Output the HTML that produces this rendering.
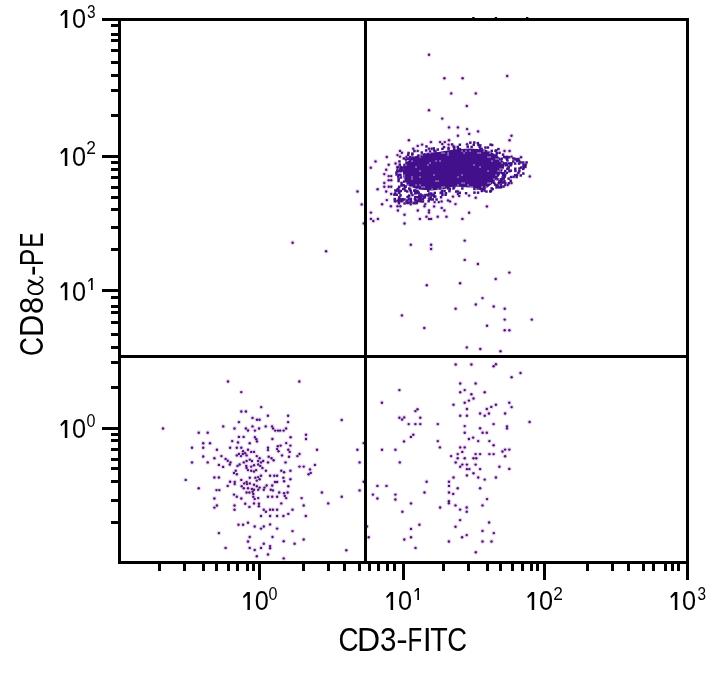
<!DOCTYPE html>
<html><head><meta charset="utf-8"><style>
html,body{margin:0;padding:0;background:#fff;width:714px;height:674px;overflow:hidden}
svg{position:absolute;left:0;top:0;display:block;will-change:transform}
text{font-family:"Liberation Sans",sans-serif;fill:#000}
</style></head><body>
<svg width="714" height="674" viewBox="0 0 714 674">
<g fill="#cf98e0" opacity="0.4"><circle cx="449.0" cy="127.4" r="2.4"/><circle cx="408.9" cy="140.2" r="2.4"/><circle cx="430.9" cy="142.1" r="2.4"/><circle cx="440.1" cy="142.1" r="2.4"/><circle cx="442.3" cy="144.0" r="2.4"/><circle cx="444.8" cy="142.1" r="2.4"/><circle cx="449.0" cy="140.2" r="2.4"/><circle cx="453.6" cy="146.5" r="2.4"/><circle cx="417.7" cy="145.9" r="2.4"/><circle cx="422.1" cy="144.6" r="2.4"/><circle cx="413.3" cy="148.8" r="2.4"/><circle cx="417.7" cy="150.9" r="2.4"/><circle cx="429.0" cy="148.8" r="2.4"/><circle cx="431.6" cy="148.8" r="2.4"/><circle cx="400.0" cy="150.9" r="2.4"/><circle cx="401.9" cy="152.8" r="2.4"/><circle cx="397.5" cy="155.1" r="2.4"/><circle cx="400.0" cy="156.6" r="2.4"/><circle cx="386.8" cy="157.0" r="2.4"/><circle cx="406.4" cy="157.0" r="2.4"/><circle cx="375.5" cy="161.4" r="2.4"/><circle cx="395.6" cy="163.5" r="2.4"/><circle cx="388.7" cy="164.8" r="2.4"/><circle cx="448.6" cy="144.6" r="2.4"/><circle cx="448.6" cy="147.8" r="2.4"/><circle cx="457.9" cy="127.4" r="2.4"/><circle cx="467.1" cy="129.1" r="2.4"/><circle cx="469.2" cy="133.9" r="2.4"/><circle cx="478.1" cy="131.4" r="2.4"/><circle cx="457.9" cy="135.8" r="2.4"/><circle cx="511.5" cy="135.8" r="2.4"/><circle cx="509.6" cy="140.2" r="2.4"/><circle cx="467.1" cy="144.3" r="2.4"/><circle cx="504.5" cy="151.0" r="2.4"/><circle cx="509.6" cy="151.0" r="2.4"/><circle cx="511.5" cy="156.6" r="2.4"/><circle cx="515.9" cy="159.1" r="2.4"/><circle cx="521.0" cy="157.2" r="2.4"/><circle cx="525.4" cy="164.8" r="2.4"/><circle cx="370.8" cy="167.8" r="2.4"/><circle cx="386.2" cy="169.8" r="2.4"/><circle cx="384.3" cy="174.1" r="2.4"/><circle cx="397.5" cy="167.8" r="2.4"/><circle cx="388.7" cy="176.1" r="2.4"/><circle cx="391.2" cy="176.1" r="2.4"/><circle cx="388.7" cy="180.2" r="2.4"/><circle cx="391.2" cy="180.2" r="2.4"/><circle cx="384.3" cy="183.0" r="2.4"/><circle cx="384.3" cy="186.7" r="2.4"/><circle cx="388.7" cy="186.7" r="2.4"/><circle cx="391.2" cy="186.7" r="2.4"/><circle cx="377.6" cy="189.3" r="2.4"/><circle cx="386.2" cy="191.5" r="2.4"/><circle cx="391.2" cy="194.0" r="2.4"/><circle cx="386.8" cy="200.1" r="2.4"/><circle cx="406.4" cy="201.6" r="2.4"/><circle cx="417.7" cy="201.6" r="2.4"/><circle cx="425.3" cy="204.1" r="2.4"/><circle cx="430.9" cy="199.1" r="2.4"/><circle cx="434.1" cy="206.4" r="2.4"/><circle cx="441.7" cy="207.9" r="2.4"/><circle cx="448.0" cy="200.4" r="2.4"/><circle cx="453.0" cy="196.6" r="2.4"/><circle cx="455.5" cy="204.1" r="2.4"/><circle cx="529.8" cy="176.4" r="2.4"/><circle cx="511.5" cy="183.0" r="2.4"/><circle cx="505.2" cy="185.0" r="2.4"/><circle cx="507.7" cy="185.0" r="2.4"/><circle cx="497.6" cy="185.2" r="2.4"/><circle cx="457.9" cy="191.5" r="2.4"/><circle cx="457.9" cy="194.0" r="2.4"/><circle cx="459.2" cy="195.9" r="2.4"/><circle cx="228.0" cy="381.5" r="2.4"/><circle cx="241.3" cy="392.1" r="2.4"/><circle cx="241.3" cy="411.5" r="2.4"/><circle cx="245.9" cy="411.5" r="2.4"/><circle cx="238.9" cy="422.1" r="2.4"/><circle cx="163.0" cy="428.5" r="2.4"/><circle cx="223.2" cy="426.4" r="2.4"/><circle cx="234.5" cy="428.5" r="2.4"/><circle cx="245.9" cy="428.5" r="2.4"/><circle cx="248.0" cy="430.5" r="2.4"/><circle cx="198.7" cy="432.7" r="2.4"/><circle cx="207.7" cy="432.7" r="2.4"/><circle cx="238.9" cy="436.9" r="2.4"/><circle cx="243.6" cy="436.9" r="2.4"/><circle cx="232.2" cy="441.1" r="2.4"/><circle cx="238.0" cy="442.5" r="2.4"/><circle cx="203.2" cy="443.2" r="2.4"/><circle cx="210.0" cy="443.2" r="2.4"/><circle cx="249.7" cy="443.2" r="2.4"/><circle cx="299.3" cy="381.5" r="2.4"/><circle cx="261.2" cy="407.1" r="2.4"/><circle cx="252.5" cy="417.9" r="2.4"/><circle cx="257.0" cy="419.7" r="2.4"/><circle cx="259.5" cy="419.7" r="2.4"/><circle cx="267.9" cy="415.7" r="2.4"/><circle cx="288.1" cy="415.7" r="2.4"/><circle cx="288.1" cy="422.1" r="2.4"/><circle cx="341.7" cy="420.0" r="2.4"/><circle cx="252.5" cy="426.4" r="2.4"/><circle cx="254.9" cy="430.6" r="2.4"/><circle cx="259.1" cy="428.5" r="2.4"/><circle cx="265.7" cy="426.4" r="2.4"/><circle cx="272.1" cy="426.4" r="2.4"/><circle cx="273.1" cy="428.5" r="2.4"/><circle cx="275.2" cy="430.6" r="2.4"/><circle cx="278.0" cy="430.6" r="2.4"/><circle cx="280.1" cy="430.6" r="2.4"/><circle cx="283.6" cy="430.6" r="2.4"/><circle cx="286.1" cy="428.5" r="2.4"/><circle cx="306.0" cy="434.8" r="2.4"/><circle cx="306.0" cy="439.0" r="2.4"/><circle cx="254.9" cy="437.2" r="2.4"/><circle cx="256.3" cy="439.3" r="2.4"/><circle cx="257.0" cy="441.4" r="2.4"/><circle cx="272.4" cy="439.0" r="2.4"/><circle cx="290.6" cy="437.2" r="2.4"/><circle cx="192.0" cy="447.7" r="2.4"/><circle cx="203.2" cy="447.7" r="2.4"/><circle cx="216.9" cy="449.8" r="2.4"/><circle cx="230.1" cy="447.7" r="2.4"/><circle cx="236.8" cy="447.7" r="2.4"/><circle cx="241.3" cy="447.7" r="2.4"/><circle cx="248.0" cy="449.8" r="2.4"/><circle cx="203.2" cy="456.5" r="2.4"/><circle cx="214.4" cy="458.2" r="2.4"/><circle cx="221.4" cy="456.1" r="2.4"/><circle cx="225.6" cy="458.9" r="2.4"/><circle cx="227.7" cy="460.7" r="2.4"/><circle cx="230.5" cy="462.4" r="2.4"/><circle cx="229.8" cy="464.5" r="2.4"/><circle cx="236.8" cy="455.4" r="2.4"/><circle cx="238.9" cy="454.0" r="2.4"/><circle cx="241.0" cy="456.1" r="2.4"/><circle cx="243.1" cy="451.2" r="2.4"/><circle cx="245.2" cy="453.3" r="2.4"/><circle cx="246.6" cy="455.4" r="2.4"/><circle cx="243.8" cy="462.4" r="2.4"/><circle cx="246.6" cy="461.0" r="2.4"/><circle cx="192.0" cy="462.4" r="2.4"/><circle cx="207.7" cy="462.4" r="2.4"/><circle cx="218.9" cy="464.9" r="2.4"/><circle cx="223.1" cy="466.9" r="2.4"/><circle cx="237.5" cy="465.9" r="2.4"/><circle cx="239.6" cy="464.5" r="2.4"/><circle cx="246.6" cy="468.0" r="2.4"/><circle cx="248.0" cy="470.1" r="2.4"/><circle cx="234.0" cy="472.9" r="2.4"/><circle cx="236.8" cy="474.3" r="2.4"/><circle cx="235.7" cy="470.8" r="2.4"/><circle cx="214.4" cy="477.5" r="2.4"/><circle cx="218.9" cy="477.5" r="2.4"/><circle cx="185.7" cy="479.9" r="2.4"/><circle cx="230.1" cy="481.7" r="2.4"/><circle cx="234.7" cy="482.0" r="2.4"/><circle cx="234.7" cy="484.1" r="2.4"/><circle cx="241.3" cy="479.9" r="2.4"/><circle cx="246.6" cy="482.0" r="2.4"/><circle cx="227.7" cy="485.9" r="2.4"/><circle cx="241.7" cy="486.2" r="2.4"/><circle cx="243.8" cy="488.3" r="2.4"/><circle cx="248.0" cy="488.3" r="2.4"/><circle cx="198.7" cy="488.3" r="2.4"/><circle cx="216.5" cy="490.1" r="2.4"/><circle cx="219.3" cy="490.1" r="2.4"/><circle cx="246.6" cy="492.5" r="2.4"/><circle cx="249.4" cy="492.5" r="2.4"/><circle cx="234.0" cy="494.6" r="2.4"/><circle cx="236.8" cy="496.7" r="2.4"/><circle cx="214.4" cy="498.5" r="2.4"/><circle cx="241.3" cy="498.5" r="2.4"/><circle cx="251.2" cy="451.9" r="2.4"/><circle cx="254.0" cy="451.9" r="2.4"/><circle cx="268.0" cy="447.7" r="2.4"/><circle cx="268.0" cy="450.1" r="2.4"/><circle cx="277.8" cy="446.3" r="2.4"/><circle cx="280.6" cy="445.6" r="2.4"/><circle cx="277.1" cy="449.1" r="2.4"/><circle cx="278.5" cy="451.2" r="2.4"/><circle cx="286.2" cy="443.1" r="2.4"/><circle cx="290.4" cy="445.6" r="2.4"/><circle cx="288.3" cy="449.8" r="2.4"/><circle cx="289.7" cy="451.9" r="2.4"/><circle cx="317.0" cy="449.8" r="2.4"/><circle cx="242.8" cy="454.0" r="2.4"/><circle cx="256.8" cy="456.1" r="2.4"/><circle cx="259.6" cy="458.2" r="2.4"/><circle cx="268.7" cy="456.8" r="2.4"/><circle cx="271.5" cy="458.2" r="2.4"/><circle cx="273.6" cy="460.3" r="2.4"/><circle cx="282.0" cy="455.4" r="2.4"/><circle cx="289.0" cy="456.8" r="2.4"/><circle cx="297.4" cy="456.1" r="2.4"/><circle cx="299.5" cy="454.0" r="2.4"/><circle cx="249.8" cy="459.6" r="2.4"/><circle cx="251.9" cy="461.0" r="2.4"/><circle cx="258.2" cy="461.0" r="2.4"/><circle cx="261.0" cy="462.4" r="2.4"/><circle cx="263.1" cy="461.0" r="2.4"/><circle cx="268.0" cy="462.4" r="2.4"/><circle cx="285.5" cy="462.4" r="2.4"/><circle cx="246.3" cy="465.9" r="2.4"/><circle cx="251.2" cy="466.6" r="2.4"/><circle cx="254.0" cy="465.2" r="2.4"/><circle cx="258.2" cy="464.5" r="2.4"/><circle cx="260.3" cy="465.9" r="2.4"/><circle cx="262.4" cy="468.0" r="2.4"/><circle cx="299.5" cy="466.6" r="2.4"/><circle cx="303.7" cy="466.6" r="2.4"/><circle cx="314.9" cy="464.9" r="2.4"/><circle cx="310.0" cy="469.4" r="2.4"/><circle cx="251.2" cy="470.8" r="2.4"/><circle cx="254.0" cy="471.5" r="2.4"/><circle cx="256.1" cy="470.1" r="2.4"/><circle cx="265.9" cy="470.8" r="2.4"/><circle cx="281.3" cy="470.8" r="2.4"/><circle cx="284.1" cy="472.2" r="2.4"/><circle cx="290.4" cy="470.8" r="2.4"/><circle cx="308.6" cy="474.3" r="2.4"/><circle cx="310.7" cy="472.9" r="2.4"/><circle cx="261.0" cy="475.7" r="2.4"/><circle cx="258.2" cy="477.1" r="2.4"/><circle cx="255.4" cy="477.8" r="2.4"/><circle cx="270.1" cy="475.7" r="2.4"/><circle cx="274.3" cy="475.7" r="2.4"/><circle cx="277.1" cy="475.7" r="2.4"/><circle cx="249.8" cy="477.8" r="2.4"/><circle cx="283.4" cy="477.8" r="2.4"/><circle cx="284.1" cy="481.3" r="2.4"/><circle cx="290.4" cy="479.2" r="2.4"/><circle cx="259.6" cy="479.2" r="2.4"/><circle cx="256.8" cy="480.6" r="2.4"/><circle cx="244.2" cy="483.4" r="2.4"/><circle cx="247.0" cy="484.1" r="2.4"/><circle cx="249.8" cy="483.4" r="2.4"/><circle cx="275.0" cy="482.0" r="2.4"/><circle cx="277.1" cy="482.0" r="2.4"/><circle cx="254.0" cy="484.8" r="2.4"/><circle cx="256.8" cy="486.2" r="2.4"/><circle cx="259.6" cy="487.6" r="2.4"/><circle cx="258.2" cy="489.7" r="2.4"/><circle cx="264.5" cy="487.6" r="2.4"/><circle cx="266.6" cy="485.5" r="2.4"/><circle cx="272.2" cy="485.5" r="2.4"/><circle cx="288.3" cy="486.2" r="2.4"/><circle cx="251.9" cy="489.0" r="2.4"/><circle cx="254.0" cy="489.7" r="2.4"/><circle cx="263.8" cy="489.7" r="2.4"/><circle cx="270.8" cy="489.7" r="2.4"/><circle cx="272.9" cy="490.4" r="2.4"/><circle cx="252.6" cy="491.8" r="2.4"/><circle cx="253.3" cy="493.9" r="2.4"/><circle cx="279.2" cy="492.5" r="2.4"/><circle cx="284.1" cy="493.2" r="2.4"/><circle cx="287.6" cy="492.5" r="2.4"/><circle cx="284.8" cy="496.0" r="2.4"/><circle cx="286.2" cy="498.1" r="2.4"/><circle cx="268.0" cy="496.7" r="2.4"/><circle cx="272.2" cy="496.7" r="2.4"/><circle cx="277.1" cy="496.7" r="2.4"/><circle cx="253.3" cy="496.7" r="2.4"/><circle cx="301.6" cy="498.1" r="2.4"/><circle cx="321.9" cy="492.5" r="2.4"/><circle cx="258.2" cy="498.1" r="2.4"/><circle cx="214.4" cy="507.6" r="2.4"/><circle cx="216.9" cy="505.5" r="2.4"/><circle cx="234.5" cy="505.5" r="2.4"/><circle cx="234.5" cy="509.7" r="2.4"/><circle cx="245.2" cy="503.7" r="2.4"/><circle cx="249.4" cy="506.9" r="2.4"/><circle cx="238.5" cy="524.7" r="2.4"/><circle cx="243.1" cy="524.7" r="2.4"/><circle cx="248.0" cy="522.7" r="2.4"/><circle cx="218.9" cy="533.1" r="2.4"/><circle cx="248.0" cy="541.5" r="2.4"/><circle cx="249.7" cy="537.0" r="2.4"/><circle cx="225.6" cy="547.9" r="2.4"/><circle cx="249.7" cy="547.9" r="2.4"/><circle cx="254.7" cy="498.9" r="2.4"/><circle cx="254.0" cy="503.4" r="2.4"/><circle cx="258.9" cy="503.7" r="2.4"/><circle cx="258.9" cy="506.2" r="2.4"/><circle cx="281.3" cy="503.4" r="2.4"/><circle cx="303.7" cy="505.5" r="2.4"/><circle cx="328.2" cy="503.4" r="2.4"/><circle cx="263.8" cy="509.7" r="2.4"/><circle cx="265.9" cy="511.8" r="2.4"/><circle cx="270.1" cy="509.7" r="2.4"/><circle cx="272.9" cy="509.7" r="2.4"/><circle cx="277.1" cy="509.7" r="2.4"/><circle cx="292.5" cy="509.7" r="2.4"/><circle cx="288.3" cy="513.9" r="2.4"/><circle cx="261.0" cy="516.0" r="2.4"/><circle cx="270.1" cy="516.0" r="2.4"/><circle cx="277.1" cy="516.0" r="2.4"/><circle cx="283.4" cy="516.0" r="2.4"/><circle cx="305.8" cy="516.0" r="2.4"/><circle cx="254.7" cy="526.5" r="2.4"/><circle cx="261.0" cy="528.6" r="2.4"/><circle cx="263.8" cy="526.5" r="2.4"/><circle cx="270.1" cy="524.4" r="2.4"/><circle cx="277.1" cy="528.6" r="2.4"/><circle cx="292.5" cy="531.1" r="2.4"/><circle cx="272.5" cy="537.0" r="2.4"/><circle cx="283.7" cy="541.2" r="2.4"/><circle cx="294.6" cy="543.7" r="2.4"/><circle cx="303.7" cy="539.5" r="2.4"/><circle cx="263.8" cy="543.7" r="2.4"/><circle cx="254.7" cy="550.0" r="2.4"/><circle cx="261.0" cy="547.9" r="2.4"/><circle cx="270.1" cy="546.1" r="2.4"/><circle cx="270.1" cy="548.2" r="2.4"/><circle cx="256.8" cy="556.3" r="2.4"/><circle cx="268.0" cy="554.5" r="2.4"/><circle cx="283.7" cy="558.4" r="2.4"/><circle cx="381.9" cy="402.7" r="2.4"/><circle cx="399.4" cy="390.1" r="2.4"/><circle cx="399.4" cy="417.7" r="2.4"/><circle cx="363.7" cy="443.1" r="2.4"/><circle cx="357.4" cy="449.8" r="2.4"/><circle cx="359.6" cy="462.4" r="2.4"/><circle cx="363.7" cy="481.7" r="2.4"/><circle cx="359.6" cy="490.4" r="2.4"/><circle cx="341.7" cy="496.7" r="2.4"/><circle cx="382.0" cy="449.8" r="2.4"/><circle cx="395.4" cy="449.8" r="2.4"/><circle cx="404.0" cy="441.4" r="2.4"/><circle cx="399.8" cy="462.4" r="2.4"/><circle cx="377.4" cy="485.9" r="2.4"/><circle cx="386.5" cy="485.9" r="2.4"/><circle cx="372.9" cy="494.6" r="2.4"/><circle cx="377.4" cy="498.5" r="2.4"/><circle cx="395.4" cy="494.6" r="2.4"/><circle cx="395.4" cy="499.5" r="2.4"/><circle cx="346.3" cy="550.3" r="2.4"/><circle cx="366.9" cy="526.5" r="2.4"/><circle cx="368.7" cy="537.3" r="2.4"/><circle cx="411.0" cy="503.4" r="2.4"/><circle cx="402.4" cy="511.8" r="2.4"/><circle cx="419.4" cy="524.7" r="2.4"/><circle cx="411.0" cy="528.9" r="2.4"/><circle cx="411.0" cy="537.3" r="2.4"/><circle cx="404.3" cy="539.5" r="2.4"/><circle cx="415.5" cy="547.9" r="2.4"/><circle cx="455.7" cy="364.5" r="2.4"/><circle cx="471.4" cy="364.5" r="2.4"/><circle cx="493.6" cy="366.3" r="2.4"/><circle cx="495.9" cy="364.2" r="2.4"/><circle cx="460.2" cy="383.5" r="2.4"/><circle cx="475.6" cy="383.5" r="2.4"/><circle cx="460.2" cy="392.2" r="2.4"/><circle cx="464.7" cy="390.1" r="2.4"/><circle cx="471.4" cy="394.3" r="2.4"/><circle cx="484.7" cy="392.2" r="2.4"/><circle cx="464.7" cy="402.7" r="2.4"/><circle cx="468.9" cy="400.6" r="2.4"/><circle cx="473.5" cy="398.5" r="2.4"/><circle cx="453.5" cy="404.8" r="2.4"/><circle cx="495.9" cy="404.8" r="2.4"/><circle cx="491.3" cy="406.9" r="2.4"/><circle cx="486.8" cy="409.0" r="2.4"/><circle cx="466.9" cy="409.0" r="2.4"/><circle cx="415.4" cy="411.1" r="2.4"/><circle cx="417.5" cy="409.3" r="2.4"/><circle cx="402.1" cy="419.5" r="2.4"/><circle cx="404.2" cy="417.4" r="2.4"/><circle cx="420.3" cy="417.7" r="2.4"/><circle cx="460.2" cy="415.7" r="2.4"/><circle cx="466.9" cy="415.7" r="2.4"/><circle cx="480.1" cy="413.5" r="2.4"/><circle cx="484.7" cy="415.7" r="2.4"/><circle cx="488.9" cy="413.5" r="2.4"/><circle cx="408.7" cy="424.1" r="2.4"/><circle cx="415.4" cy="424.1" r="2.4"/><circle cx="420.3" cy="424.1" r="2.4"/><circle cx="437.8" cy="424.1" r="2.4"/><circle cx="464.7" cy="426.1" r="2.4"/><circle cx="480.1" cy="428.3" r="2.4"/><circle cx="493.6" cy="424.1" r="2.4"/><circle cx="464.7" cy="432.7" r="2.4"/><circle cx="482.6" cy="432.7" r="2.4"/><circle cx="486.8" cy="432.7" r="2.4"/><circle cx="410.9" cy="436.9" r="2.4"/><circle cx="413.3" cy="434.8" r="2.4"/><circle cx="437.8" cy="441.1" r="2.4"/><circle cx="439.9" cy="447.4" r="2.4"/><circle cx="468.9" cy="439.0" r="2.4"/><circle cx="473.1" cy="437.6" r="2.4"/><circle cx="478.2" cy="441.1" r="2.4"/><circle cx="489.4" cy="441.1" r="2.4"/><circle cx="493.6" cy="445.3" r="2.4"/><circle cx="460.2" cy="447.4" r="2.4"/><circle cx="464.7" cy="447.4" r="2.4"/><circle cx="462.3" cy="451.9" r="2.4"/><circle cx="451.1" cy="456.1" r="2.4"/><circle cx="457.7" cy="454.1" r="2.4"/><circle cx="457.7" cy="458.3" r="2.4"/><circle cx="464.7" cy="458.3" r="2.4"/><circle cx="475.6" cy="454.1" r="2.4"/><circle cx="480.1" cy="454.1" r="2.4"/><circle cx="473.5" cy="458.3" r="2.4"/><circle cx="476.3" cy="458.3" r="2.4"/><circle cx="489.4" cy="454.1" r="2.4"/><circle cx="493.6" cy="454.1" r="2.4"/><circle cx="455.7" cy="462.5" r="2.4"/><circle cx="460.2" cy="466.7" r="2.4"/><circle cx="462.3" cy="464.6" r="2.4"/><circle cx="466.9" cy="464.6" r="2.4"/><circle cx="475.6" cy="464.6" r="2.4"/><circle cx="499.4" cy="466.7" r="2.4"/><circle cx="466.9" cy="469.1" r="2.4"/><circle cx="469.3" cy="469.1" r="2.4"/><circle cx="480.1" cy="469.1" r="2.4"/><circle cx="473.5" cy="473.3" r="2.4"/><circle cx="466.9" cy="475.4" r="2.4"/><circle cx="453.5" cy="477.5" r="2.4"/><circle cx="478.2" cy="477.5" r="2.4"/><circle cx="484.7" cy="479.6" r="2.4"/><circle cx="495.9" cy="477.5" r="2.4"/><circle cx="426.6" cy="481.7" r="2.4"/><circle cx="449.0" cy="481.7" r="2.4"/><circle cx="449.0" cy="485.9" r="2.4"/><circle cx="457.7" cy="488.3" r="2.4"/><circle cx="480.1" cy="488.3" r="2.4"/><circle cx="424.5" cy="492.5" r="2.4"/><circle cx="449.0" cy="492.5" r="2.4"/><circle cx="453.2" cy="493.9" r="2.4"/><circle cx="440.1" cy="507.5" r="2.4"/><circle cx="448.9" cy="501.2" r="2.4"/><circle cx="448.9" cy="503.3" r="2.4"/><circle cx="455.5" cy="505.4" r="2.4"/><circle cx="460.1" cy="509.6" r="2.4"/><circle cx="466.7" cy="507.5" r="2.4"/><circle cx="466.7" cy="511.7" r="2.4"/><circle cx="487.0" cy="499.1" r="2.4"/><circle cx="482.5" cy="505.4" r="2.4"/><circle cx="460.1" cy="520.1" r="2.4"/><circle cx="489.1" cy="522.5" r="2.4"/><circle cx="455.5" cy="526.7" r="2.4"/><circle cx="482.5" cy="530.9" r="2.4"/><circle cx="493.8" cy="533.1" r="2.4"/><circle cx="462.1" cy="537.3" r="2.4"/><circle cx="466.7" cy="535.1" r="2.4"/><circle cx="448.9" cy="541.5" r="2.4"/><circle cx="482.5" cy="541.5" r="2.4"/><circle cx="491.5" cy="541.5" r="2.4"/><circle cx="475.8" cy="552.3" r="2.4"/><circle cx="511.6" cy="377.2" r="2.4"/><circle cx="520.5" cy="373.0" r="2.4"/><circle cx="509.3" cy="402.7" r="2.4"/><circle cx="511.6" cy="407.1" r="2.4"/><circle cx="505.1" cy="413.5" r="2.4"/><circle cx="507.0" cy="426.4" r="2.4"/><circle cx="507.0" cy="428.4" r="2.4"/><circle cx="529.6" cy="422.0" r="2.4"/><circle cx="502.5" cy="451.5" r="2.4"/><circle cx="505.1" cy="449.6" r="2.4"/><circle cx="509.3" cy="449.6" r="2.4"/><circle cx="505.1" cy="456.3" r="2.4"/><circle cx="509.3" cy="468.9" r="2.4"/><circle cx="357.5" cy="191.5" r="2.4"/><circle cx="361.7" cy="204.4" r="2.4"/><circle cx="363.8" cy="223.4" r="2.4"/><circle cx="292.6" cy="242.7" r="2.4"/><circle cx="326.1" cy="251.3" r="2.4"/><circle cx="382.1" cy="204.2" r="2.4"/><circle cx="390.9" cy="206.3" r="2.4"/><circle cx="395.4" cy="201.4" r="2.4"/><circle cx="397.5" cy="200.7" r="2.4"/><circle cx="397.5" cy="206.3" r="2.4"/><circle cx="400.3" cy="206.3" r="2.4"/><circle cx="397.9" cy="210.5" r="2.4"/><circle cx="410.8" cy="202.1" r="2.4"/><circle cx="410.8" cy="204.2" r="2.4"/><circle cx="404.5" cy="214.7" r="2.4"/><circle cx="404.5" cy="223.5" r="2.4"/><circle cx="370.9" cy="212.6" r="2.4"/><circle cx="370.9" cy="218.9" r="2.4"/><circle cx="373.3" cy="221.0" r="2.4"/><circle cx="377.9" cy="218.9" r="2.4"/><circle cx="417.8" cy="210.5" r="2.4"/><circle cx="419.9" cy="218.9" r="2.4"/><circle cx="424.5" cy="206.3" r="2.4"/><circle cx="429.0" cy="210.5" r="2.4"/><circle cx="429.0" cy="212.6" r="2.4"/><circle cx="434.6" cy="202.1" r="2.4"/><circle cx="438.8" cy="202.1" r="2.4"/><circle cx="441.6" cy="201.4" r="2.4"/><circle cx="444.4" cy="210.5" r="2.4"/><circle cx="426.5" cy="216.8" r="2.4"/><circle cx="429.0" cy="218.9" r="2.4"/><circle cx="431.1" cy="218.9" r="2.4"/><circle cx="437.7" cy="216.8" r="2.4"/><circle cx="446.5" cy="216.8" r="2.4"/><circle cx="450.0" cy="201.4" r="2.4"/><circle cx="462.4" cy="218.9" r="2.4"/><circle cx="410.8" cy="244.8" r="2.4"/><circle cx="431.1" cy="244.8" r="2.4"/><circle cx="431.1" cy="249.0" r="2.4"/><circle cx="464.7" cy="240.6" r="2.4"/><circle cx="464.7" cy="259.9" r="2.4"/><circle cx="469.1" cy="195.6" r="2.4"/><circle cx="475.7" cy="197.7" r="2.4"/><circle cx="486.9" cy="206.4" r="2.4"/><circle cx="469.1" cy="212.7" r="2.4"/><circle cx="477.9" cy="264.0" r="2.4"/><circle cx="509.4" cy="272.6" r="2.4"/><circle cx="495.7" cy="279.0" r="2.4"/><circle cx="426.8" cy="285.2" r="2.4"/><circle cx="460.1" cy="283.2" r="2.4"/><circle cx="482.5" cy="298.1" r="2.4"/><circle cx="475.8" cy="304.5" r="2.4"/><circle cx="455.6" cy="308.7" r="2.4"/><circle cx="493.7" cy="306.5" r="2.4"/><circle cx="504.7" cy="308.7" r="2.4"/><circle cx="401.9" cy="315.4" r="2.4"/><circle cx="504.7" cy="319.6" r="2.4"/><circle cx="531.8" cy="319.6" r="2.4"/><circle cx="424.3" cy="328.0" r="2.4"/><circle cx="487.0" cy="325.8" r="2.4"/><circle cx="504.7" cy="330.3" r="2.4"/><circle cx="509.4" cy="330.3" r="2.4"/><circle cx="466.8" cy="347.4" r="2.4"/><circle cx="480.3" cy="349.0" r="2.4"/><circle cx="500.5" cy="351.3" r="2.4"/><circle cx="429.0" cy="54.7" r="2.4"/><circle cx="444.4" cy="78.3" r="2.4"/><circle cx="462.6" cy="78.3" r="2.4"/><circle cx="507.2" cy="76.0" r="2.4"/><circle cx="451.2" cy="93.4" r="2.4"/><circle cx="475.8" cy="93.4" r="2.4"/><circle cx="466.8" cy="106.0" r="2.4"/><circle cx="429.0" cy="110.2" r="2.4"/><circle cx="442.2" cy="118.6" r="2.4"/></g>
<polygon fill="#42108a" points="405.5,164 411.4,157.5 424.8,153 438.3,152 454,149.5 469.6,148.5 485.3,149.5 492,152.4 499,157 504,162 504,168 499,176 492,184 485.3,189 469.6,187.5 454,186.5 442.7,189.5 431.5,190.5 418.1,189.5 407,185.5 403,177.1 403,170.3"/>
<g fill="#42108a"><rect x="396.4" y="165.8" width="2.5" height="2.5"/><rect x="396.6" y="169.9" width="2.5" height="2.5"/><rect x="396.9" y="175.2" width="2.5" height="2.5"/><rect x="398.2" y="160.2" width="2.5" height="2.5"/><rect x="398.5" y="163.4" width="2.5" height="2.5"/><rect x="399.3" y="165.7" width="2.5" height="2.5"/><rect x="399.2" y="167.7" width="2.5" height="2.5"/><rect x="398.9" y="169.3" width="2.5" height="2.5"/><rect x="400.9" y="166.2" width="2.5" height="2.5"/><rect x="400.8" y="168.0" width="2.5" height="2.5"/><rect x="401.0" y="169.2" width="2.5" height="2.5"/><rect x="401.1" y="183.9" width="2.5" height="2.5"/><rect x="402.5" y="157.2" width="2.5" height="2.5"/><rect x="403.2" y="163.7" width="2.5" height="2.5"/><rect x="403.0" y="166.2" width="2.5" height="2.5"/><rect x="403.0" y="180.3" width="2.5" height="2.5"/><rect x="402.6" y="184.1" width="2.5" height="2.5"/><rect x="404.7" y="158.3" width="2.5" height="2.5"/><rect x="405.2" y="161.3" width="2.5" height="2.5"/><rect x="404.3" y="185.4" width="2.5" height="2.5"/><rect x="407.3" y="151.7" width="2.5" height="2.5"/><rect x="406.9" y="153.5" width="2.5" height="2.5"/><rect x="406.8" y="157.6" width="2.5" height="2.5"/><rect x="408.6" y="155.9" width="2.5" height="2.5"/><rect x="408.9" y="158.2" width="2.5" height="2.5"/><rect x="409.0" y="188.3" width="2.5" height="2.5"/><rect x="411.2" y="152.3" width="2.5" height="2.5"/><rect x="411.0" y="153.3" width="2.5" height="2.5"/><rect x="411.2" y="156.3" width="2.5" height="2.5"/><rect x="413.2" y="149.8" width="2.5" height="2.5"/><rect x="413.0" y="189.4" width="2.5" height="2.5"/><rect x="415.1" y="189.8" width="2.5" height="2.5"/><rect x="414.5" y="191.2" width="2.5" height="2.5"/><rect x="417.2" y="154.3" width="2.5" height="2.5"/><rect x="416.3" y="190.1" width="2.5" height="2.5"/><rect x="420.6" y="151.3" width="2.5" height="2.5"/><rect x="422.5" y="196.1" width="2.5" height="2.5"/><rect x="425.2" y="145.2" width="2.5" height="2.5"/><rect x="424.9" y="149.2" width="2.5" height="2.5"/><rect x="427.0" y="189.5" width="2.5" height="2.5"/><rect x="427.2" y="194.3" width="2.5" height="2.5"/><rect x="428.8" y="150.3" width="2.5" height="2.5"/><rect x="432.5" y="147.2" width="2.5" height="2.5"/><rect x="432.9" y="149.2" width="2.5" height="2.5"/><rect x="432.4" y="193.6" width="2.5" height="2.5"/><rect x="432.9" y="195.3" width="2.5" height="2.5"/><rect x="434.2" y="150.2" width="2.5" height="2.5"/><rect x="436.5" y="148.3" width="2.5" height="2.5"/><rect x="441.2" y="147.6" width="2.5" height="2.5"/><rect x="440.7" y="189.8" width="2.5" height="2.5"/><rect x="440.9" y="191.9" width="2.5" height="2.5"/><rect x="442.8" y="145.9" width="2.5" height="2.5"/><rect x="443.3" y="189.8" width="2.5" height="2.5"/><rect x="444.7" y="192.0" width="2.5" height="2.5"/><rect x="444.4" y="193.5" width="2.5" height="2.5"/><rect x="447.3" y="147.8" width="2.5" height="2.5"/><rect x="446.8" y="187.2" width="2.5" height="2.5"/><rect x="448.6" y="187.8" width="2.5" height="2.5"/><rect x="448.2" y="189.9" width="2.5" height="2.5"/><rect x="450.9" y="143.2" width="2.5" height="2.5"/><rect x="452.9" y="145.7" width="2.5" height="2.5"/><rect x="453.0" y="147.6" width="2.5" height="2.5"/><rect x="453.0" y="186.0" width="2.5" height="2.5"/><rect x="452.2" y="187.2" width="2.5" height="2.5"/><rect x="455.0" y="190.3" width="2.5" height="2.5"/><rect x="456.5" y="145.7" width="2.5" height="2.5"/><rect x="456.9" y="147.5" width="2.5" height="2.5"/><rect x="458.6" y="143.5" width="2.5" height="2.5"/><rect x="458.6" y="147.9" width="2.5" height="2.5"/><rect x="458.5" y="191.6" width="2.5" height="2.5"/><rect x="461.1" y="187.2" width="2.5" height="2.5"/><rect x="464.8" y="192.0" width="2.5" height="2.5"/><rect x="466.5" y="145.4" width="2.5" height="2.5"/><rect x="469.1" y="141.4" width="2.5" height="2.5"/><rect x="470.4" y="145.7" width="2.5" height="2.5"/><rect x="473.0" y="141.3" width="2.5" height="2.5"/><rect x="472.5" y="143.6" width="2.5" height="2.5"/><rect x="473.2" y="187.7" width="2.5" height="2.5"/><rect x="473.2" y="191.4" width="2.5" height="2.5"/><rect x="476.6" y="141.9" width="2.5" height="2.5"/><rect x="477.2" y="143.7" width="2.5" height="2.5"/><rect x="476.4" y="187.3" width="2.5" height="2.5"/><rect x="476.8" y="191.4" width="2.5" height="2.5"/><rect x="479.1" y="144.2" width="2.5" height="2.5"/><rect x="478.4" y="145.5" width="2.5" height="2.5"/><rect x="479.1" y="147.9" width="2.5" height="2.5"/><rect x="479.1" y="187.6" width="2.5" height="2.5"/><rect x="480.3" y="147.5" width="2.5" height="2.5"/><rect x="481.1" y="187.5" width="2.5" height="2.5"/><rect x="480.6" y="189.7" width="2.5" height="2.5"/><rect x="482.7" y="187.6" width="2.5" height="2.5"/><rect x="483.3" y="189.3" width="2.5" height="2.5"/><rect x="484.2" y="146.3" width="2.5" height="2.5"/><rect x="485.2" y="190.3" width="2.5" height="2.5"/><rect x="486.7" y="146.3" width="2.5" height="2.5"/><rect x="489.3" y="143.4" width="2.5" height="2.5"/><rect x="489.0" y="190.2" width="2.5" height="2.5"/><rect x="490.9" y="143.8" width="2.5" height="2.5"/><rect x="490.5" y="149.6" width="2.5" height="2.5"/><rect x="490.4" y="187.2" width="2.5" height="2.5"/><rect x="492.9" y="181.5" width="2.5" height="2.5"/><rect x="495.1" y="149.2" width="2.5" height="2.5"/><rect x="495.2" y="154.0" width="2.5" height="2.5"/><rect x="495.3" y="186.2" width="2.5" height="2.5"/><rect x="497.2" y="147.8" width="2.5" height="2.5"/><rect x="496.2" y="178.0" width="2.5" height="2.5"/><rect x="500.4" y="157.5" width="2.5" height="2.5"/><rect x="500.9" y="171.8" width="2.5" height="2.5"/><rect x="500.6" y="178.3" width="2.5" height="2.5"/><rect x="502.9" y="155.6" width="2.5" height="2.5"/><rect x="502.5" y="162.2" width="2.5" height="2.5"/><rect x="502.7" y="172.1" width="2.5" height="2.5"/><rect x="502.6" y="177.4" width="2.5" height="2.5"/><rect x="504.8" y="162.1" width="2.5" height="2.5"/><rect x="504.4" y="164.1" width="2.5" height="2.5"/><rect x="509.3" y="164.1" width="2.5" height="2.5"/><rect x="394.1" y="189.2" width="2.5" height="2.5"/><rect x="393.9" y="192.2" width="2.5" height="2.5"/><rect x="393.2" y="193.5" width="2.5" height="2.5"/><rect x="393.5" y="197.8" width="2.5" height="2.5"/><rect x="393.7" y="199.7" width="2.5" height="2.5"/><rect x="396.1" y="169.2" width="2.5" height="2.5"/><rect x="395.2" y="171.3" width="2.5" height="2.5"/><rect x="395.3" y="173.2" width="2.5" height="2.5"/><rect x="396.3" y="188.2" width="2.5" height="2.5"/><rect x="395.3" y="189.8" width="2.5" height="2.5"/><rect x="395.5" y="193.5" width="2.5" height="2.5"/><rect x="397.6" y="169.9" width="2.5" height="2.5"/><rect x="397.9" y="173.6" width="2.5" height="2.5"/><rect x="397.4" y="177.5" width="2.5" height="2.5"/><rect x="397.3" y="179.8" width="2.5" height="2.5"/><rect x="398.0" y="185.6" width="2.5" height="2.5"/><rect x="397.2" y="187.4" width="2.5" height="2.5"/><rect x="397.6" y="189.9" width="2.5" height="2.5"/><rect x="398.1" y="191.6" width="2.5" height="2.5"/><rect x="398.1" y="195.9" width="2.5" height="2.5"/><rect x="397.7" y="197.6" width="2.5" height="2.5"/><rect x="397.7" y="200.0" width="2.5" height="2.5"/><rect x="397.7" y="202.0" width="2.5" height="2.5"/><rect x="399.7" y="167.4" width="2.5" height="2.5"/><rect x="399.8" y="170.0" width="2.5" height="2.5"/><rect x="399.2" y="173.7" width="2.5" height="2.5"/><rect x="399.7" y="176.2" width="2.5" height="2.5"/><rect x="400.3" y="181.6" width="2.5" height="2.5"/><rect x="400.2" y="184.1" width="2.5" height="2.5"/><rect x="399.5" y="189.7" width="2.5" height="2.5"/><rect x="399.3" y="194.1" width="2.5" height="2.5"/><rect x="399.9" y="198.2" width="2.5" height="2.5"/><rect x="400.1" y="200.0" width="2.5" height="2.5"/><rect x="402.0" y="187.8" width="2.5" height="2.5"/><rect x="401.3" y="197.9" width="2.5" height="2.5"/><rect x="401.2" y="199.3" width="2.5" height="2.5"/><rect x="404.1" y="185.2" width="2.5" height="2.5"/><rect x="403.3" y="187.3" width="2.5" height="2.5"/><rect x="404.2" y="189.4" width="2.5" height="2.5"/><rect x="403.2" y="198.2" width="2.5" height="2.5"/><rect x="403.3" y="202.2" width="2.5" height="2.5"/><rect x="406.0" y="190.2" width="2.5" height="2.5"/><rect x="406.3" y="195.8" width="2.5" height="2.5"/><rect x="406.1" y="199.2" width="2.5" height="2.5"/><rect x="406.1" y="201.8" width="2.5" height="2.5"/><rect x="408.0" y="187.3" width="2.5" height="2.5"/><rect x="408.0" y="194.3" width="2.5" height="2.5"/><rect x="407.2" y="195.5" width="2.5" height="2.5"/><rect x="407.8" y="198.1" width="2.5" height="2.5"/><rect x="407.4" y="201.4" width="2.5" height="2.5"/><rect x="409.4" y="189.9" width="2.5" height="2.5"/><rect x="410.1" y="191.6" width="2.5" height="2.5"/><rect x="409.6" y="197.6" width="2.5" height="2.5"/><rect x="409.6" y="199.7" width="2.5" height="2.5"/><rect x="411.2" y="193.8" width="2.5" height="2.5"/><rect x="412.3" y="201.6" width="2.5" height="2.5"/><rect x="414.0" y="189.3" width="2.5" height="2.5"/><rect x="414.0" y="192.1" width="2.5" height="2.5"/><rect x="414.0" y="195.8" width="2.5" height="2.5"/><rect x="413.7" y="197.9" width="2.5" height="2.5"/><rect x="414.2" y="199.3" width="2.5" height="2.5"/><rect x="413.3" y="202.0" width="2.5" height="2.5"/><rect x="416.2" y="191.8" width="2.5" height="2.5"/><rect x="415.7" y="196.0" width="2.5" height="2.5"/><rect x="415.4" y="199.5" width="2.5" height="2.5"/><rect x="415.4" y="201.9" width="2.5" height="2.5"/><rect x="417.5" y="191.4" width="2.5" height="2.5"/><rect x="418.0" y="194.3" width="2.5" height="2.5"/><rect x="417.5" y="196.0" width="2.5" height="2.5"/><rect x="417.6" y="198.2" width="2.5" height="2.5"/><rect x="417.9" y="199.5" width="2.5" height="2.5"/><rect x="419.4" y="193.2" width="2.5" height="2.5"/><rect x="419.7" y="195.6" width="2.5" height="2.5"/><rect x="419.4" y="197.6" width="2.5" height="2.5"/><rect x="419.5" y="200.1" width="2.5" height="2.5"/><rect x="421.3" y="194.3" width="2.5" height="2.5"/><rect x="421.7" y="197.9" width="2.5" height="2.5"/><rect x="421.7" y="200.2" width="2.5" height="2.5"/><rect x="424.1" y="193.8" width="2.5" height="2.5"/><rect x="423.7" y="196.0" width="2.5" height="2.5"/><rect x="426.2" y="193.6" width="2.5" height="2.5"/><rect x="428.0" y="192.3" width="2.5" height="2.5"/><rect x="427.7" y="197.4" width="2.5" height="2.5"/><rect x="427.4" y="200.0" width="2.5" height="2.5"/><rect x="430.0" y="192.3" width="2.5" height="2.5"/><rect x="430.2" y="193.4" width="2.5" height="2.5"/><rect x="429.4" y="195.5" width="2.5" height="2.5"/><rect x="429.4" y="198.0" width="2.5" height="2.5"/><rect x="432.2" y="194.2" width="2.5" height="2.5"/><rect x="431.5" y="198.2" width="2.5" height="2.5"/><rect x="433.5" y="191.7" width="2.5" height="2.5"/><rect x="434.0" y="195.3" width="2.5" height="2.5"/><rect x="435.3" y="198.2" width="2.5" height="2.5"/><rect x="439.5" y="191.6" width="2.5" height="2.5"/><rect x="439.8" y="196.0" width="2.5" height="2.5"/><rect x="441.2" y="193.6" width="2.5" height="2.5"/><rect x="489.7" y="189.7" width="2.5" height="2.5"/><rect x="491.4" y="187.9" width="2.5" height="2.5"/><rect x="494.3" y="149.6" width="2.5" height="2.5"/><rect x="493.8" y="183.3" width="2.5" height="2.5"/><rect x="495.5" y="151.9" width="2.5" height="2.5"/><rect x="495.3" y="184.2" width="2.5" height="2.5"/><rect x="496.2" y="185.3" width="2.5" height="2.5"/><rect x="498.3" y="151.6" width="2.5" height="2.5"/><rect x="498.1" y="180.1" width="2.5" height="2.5"/><rect x="497.5" y="182.0" width="2.5" height="2.5"/><rect x="497.9" y="186.1" width="2.5" height="2.5"/><rect x="499.5" y="178.1" width="2.5" height="2.5"/><rect x="500.3" y="180.0" width="2.5" height="2.5"/><rect x="499.8" y="181.3" width="2.5" height="2.5"/><rect x="499.7" y="183.6" width="2.5" height="2.5"/><rect x="500.0" y="186.0" width="2.5" height="2.5"/><rect x="501.8" y="153.4" width="2.5" height="2.5"/><rect x="501.9" y="173.9" width="2.5" height="2.5"/><rect x="501.4" y="176.2" width="2.5" height="2.5"/><rect x="501.9" y="181.3" width="2.5" height="2.5"/><rect x="502.3" y="185.3" width="2.5" height="2.5"/><rect x="503.5" y="156.0" width="2.5" height="2.5"/><rect x="503.9" y="169.8" width="2.5" height="2.5"/><rect x="503.9" y="173.7" width="2.5" height="2.5"/><rect x="503.5" y="175.4" width="2.5" height="2.5"/><rect x="503.2" y="180.0" width="2.5" height="2.5"/><rect x="504.1" y="181.8" width="2.5" height="2.5"/><rect x="506.0" y="155.6" width="2.5" height="2.5"/><rect x="505.5" y="157.6" width="2.5" height="2.5"/><rect x="506.2" y="159.2" width="2.5" height="2.5"/><rect x="505.8" y="163.4" width="2.5" height="2.5"/><rect x="506.1" y="167.6" width="2.5" height="2.5"/><rect x="505.5" y="171.6" width="2.5" height="2.5"/><rect x="507.8" y="156.1" width="2.5" height="2.5"/><rect x="507.6" y="162.2" width="2.5" height="2.5"/><rect x="507.3" y="165.5" width="2.5" height="2.5"/><rect x="507.3" y="167.3" width="2.5" height="2.5"/><rect x="508.1" y="170.0" width="2.5" height="2.5"/><rect x="507.4" y="177.4" width="2.5" height="2.5"/><rect x="507.6" y="182.0" width="2.5" height="2.5"/><rect x="510.1" y="162.0" width="2.5" height="2.5"/><rect x="509.9" y="163.3" width="2.5" height="2.5"/><rect x="509.6" y="169.4" width="2.5" height="2.5"/><rect x="509.8" y="175.8" width="2.5" height="2.5"/><rect x="509.4" y="179.5" width="2.5" height="2.5"/><rect x="512.1" y="157.2" width="2.5" height="2.5"/><rect x="512.1" y="160.2" width="2.5" height="2.5"/><rect x="512.3" y="175.6" width="2.5" height="2.5"/><rect x="513.8" y="157.8" width="2.5" height="2.5"/><rect x="513.9" y="162.3" width="2.5" height="2.5"/><rect x="514.0" y="167.5" width="2.5" height="2.5"/><rect x="514.2" y="169.7" width="2.5" height="2.5"/><rect x="513.9" y="174.0" width="2.5" height="2.5"/><rect x="515.2" y="158.1" width="2.5" height="2.5"/><rect x="515.9" y="159.7" width="2.5" height="2.5"/><rect x="515.8" y="173.7" width="2.5" height="2.5"/><rect x="515.4" y="175.8" width="2.5" height="2.5"/><rect x="517.2" y="157.8" width="2.5" height="2.5"/><rect x="517.9" y="159.7" width="2.5" height="2.5"/><rect x="517.8" y="162.3" width="2.5" height="2.5"/><rect x="518.2" y="167.3" width="2.5" height="2.5"/><rect x="518.1" y="169.9" width="2.5" height="2.5"/><rect x="517.2" y="171.6" width="2.5" height="2.5"/><rect x="519.4" y="161.2" width="2.5" height="2.5"/><rect x="519.8" y="166.3" width="2.5" height="2.5"/><rect x="519.5" y="174.2" width="2.5" height="2.5"/><rect x="522.0" y="161.3" width="2.5" height="2.5"/><rect x="522.2" y="163.9" width="2.5" height="2.5"/><rect x="522.3" y="166.0" width="2.5" height="2.5"/><rect x="522.0" y="167.6" width="2.5" height="2.5"/><rect x="522.1" y="172.3" width="2.5" height="2.5"/><rect x="524.2" y="163.7" width="2.5" height="2.5"/><rect x="524.1" y="165.7" width="2.5" height="2.5"/><rect x="525.3" y="161.2" width="2.5" height="2.5"/></g>
<g fill="#d4b0e8"><rect x="403.4" y="174.4" width="1.3" height="1.3"/><rect x="403.4" y="176.4" width="1.3" height="1.3"/><rect x="403.4" y="178.4" width="1.3" height="1.3"/><rect x="405.4" y="164.4" width="1.3" height="1.3"/><rect x="405.4" y="182.4" width="1.3" height="1.3"/><rect x="407.4" y="184.4" width="1.3" height="1.3"/><rect x="411.4" y="160.4" width="1.3" height="1.3"/><rect x="411.4" y="176.4" width="1.3" height="1.3"/><rect x="411.4" y="178.4" width="1.3" height="1.3"/><rect x="411.4" y="186.4" width="1.3" height="1.3"/><rect x="415.4" y="166.4" width="1.3" height="1.3"/><rect x="415.4" y="184.4" width="1.3" height="1.3"/><rect x="417.4" y="188.4" width="1.3" height="1.3"/><rect x="419.4" y="154.4" width="1.3" height="1.3"/><rect x="419.4" y="156.4" width="1.3" height="1.3"/><rect x="419.4" y="170.4" width="1.3" height="1.3"/><rect x="419.4" y="176.4" width="1.3" height="1.3"/><rect x="419.4" y="184.4" width="1.3" height="1.3"/><rect x="421.4" y="154.4" width="1.3" height="1.3"/><rect x="421.4" y="186.4" width="1.3" height="1.3"/><rect x="423.4" y="186.4" width="1.3" height="1.3"/><rect x="425.4" y="152.4" width="1.3" height="1.3"/><rect x="427.4" y="164.4" width="1.3" height="1.3"/><rect x="429.4" y="152.4" width="1.3" height="1.3"/><rect x="429.4" y="162.4" width="1.3" height="1.3"/><rect x="431.4" y="188.4" width="1.3" height="1.3"/><rect x="433.4" y="174.4" width="1.3" height="1.3"/><rect x="435.4" y="160.4" width="1.3" height="1.3"/><rect x="435.4" y="180.4" width="1.3" height="1.3"/><rect x="437.4" y="180.4" width="1.3" height="1.3"/><rect x="437.4" y="188.4" width="1.3" height="1.3"/><rect x="439.4" y="160.4" width="1.3" height="1.3"/><rect x="441.4" y="152.4" width="1.3" height="1.3"/><rect x="441.4" y="186.4" width="1.3" height="1.3"/><rect x="441.4" y="188.4" width="1.3" height="1.3"/><rect x="443.4" y="152.4" width="1.3" height="1.3"/><rect x="443.4" y="186.4" width="1.3" height="1.3"/><rect x="447.4" y="152.4" width="1.3" height="1.3"/><rect x="447.4" y="154.4" width="1.3" height="1.3"/><rect x="457.4" y="176.4" width="1.3" height="1.3"/><rect x="457.4" y="184.4" width="1.3" height="1.3"/><rect x="461.4" y="150.4" width="1.3" height="1.3"/><rect x="461.4" y="174.4" width="1.3" height="1.3"/><rect x="461.4" y="182.4" width="1.3" height="1.3"/><rect x="463.4" y="152.4" width="1.3" height="1.3"/><rect x="463.4" y="182.4" width="1.3" height="1.3"/><rect x="465.4" y="150.4" width="1.3" height="1.3"/><rect x="467.4" y="184.4" width="1.3" height="1.3"/><rect x="469.4" y="150.4" width="1.3" height="1.3"/><rect x="469.4" y="186.4" width="1.3" height="1.3"/><rect x="471.4" y="186.4" width="1.3" height="1.3"/><rect x="473.4" y="164.4" width="1.3" height="1.3"/><rect x="477.4" y="152.4" width="1.3" height="1.3"/><rect x="479.4" y="152.4" width="1.3" height="1.3"/><rect x="479.4" y="166.4" width="1.3" height="1.3"/><rect x="481.4" y="186.4" width="1.3" height="1.3"/><rect x="483.4" y="150.4" width="1.3" height="1.3"/><rect x="485.4" y="186.4" width="1.3" height="1.3"/><rect x="487.4" y="150.4" width="1.3" height="1.3"/><rect x="487.4" y="156.4" width="1.3" height="1.3"/><rect x="487.4" y="170.4" width="1.3" height="1.3"/><rect x="487.4" y="182.4" width="1.3" height="1.3"/><rect x="489.4" y="152.4" width="1.3" height="1.3"/><rect x="489.4" y="156.4" width="1.3" height="1.3"/><rect x="489.4" y="182.4" width="1.3" height="1.3"/><rect x="491.4" y="160.4" width="1.3" height="1.3"/><rect x="493.4" y="178.4" width="1.3" height="1.3"/><rect x="495.4" y="158.4" width="1.3" height="1.3"/><rect x="495.4" y="174.4" width="1.3" height="1.3"/><rect x="497.4" y="158.4" width="1.3" height="1.3"/><rect x="497.4" y="170.4" width="1.3" height="1.3"/><rect x="499.4" y="160.4" width="1.3" height="1.3"/><rect x="499.4" y="168.4" width="1.3" height="1.3"/><rect x="499.4" y="170.4" width="1.3" height="1.3"/><rect x="501.4" y="162.4" width="1.3" height="1.3"/><rect x="501.4" y="168.4" width="1.3" height="1.3"/></g>
<g fill="#4c1478"><circle cx="449.0" cy="127.4" r="1.2"/><circle cx="408.9" cy="140.2" r="1.2"/><circle cx="430.9" cy="142.1" r="1.2"/><circle cx="440.1" cy="142.1" r="1.2"/><circle cx="442.3" cy="144.0" r="1.2"/><circle cx="444.8" cy="142.1" r="1.2"/><circle cx="449.0" cy="140.2" r="1.2"/><circle cx="453.6" cy="146.5" r="1.2"/><circle cx="417.7" cy="145.9" r="1.2"/><circle cx="422.1" cy="144.6" r="1.2"/><circle cx="413.3" cy="148.8" r="1.2"/><circle cx="417.7" cy="150.9" r="1.2"/><circle cx="429.0" cy="148.8" r="1.2"/><circle cx="431.6" cy="148.8" r="1.2"/><circle cx="400.0" cy="150.9" r="1.2"/><circle cx="401.9" cy="152.8" r="1.2"/><circle cx="397.5" cy="155.1" r="1.2"/><circle cx="400.0" cy="156.6" r="1.2"/><circle cx="386.8" cy="157.0" r="1.2"/><circle cx="406.4" cy="157.0" r="1.2"/><circle cx="375.5" cy="161.4" r="1.2"/><circle cx="395.6" cy="163.5" r="1.2"/><circle cx="388.7" cy="164.8" r="1.2"/><circle cx="448.6" cy="144.6" r="1.2"/><circle cx="448.6" cy="147.8" r="1.2"/><circle cx="457.9" cy="127.4" r="1.2"/><circle cx="467.1" cy="129.1" r="1.2"/><circle cx="469.2" cy="133.9" r="1.2"/><circle cx="478.1" cy="131.4" r="1.2"/><circle cx="457.9" cy="135.8" r="1.2"/><circle cx="511.5" cy="135.8" r="1.2"/><circle cx="509.6" cy="140.2" r="1.2"/><circle cx="467.1" cy="144.3" r="1.2"/><circle cx="504.5" cy="151.0" r="1.2"/><circle cx="509.6" cy="151.0" r="1.2"/><circle cx="511.5" cy="156.6" r="1.2"/><circle cx="515.9" cy="159.1" r="1.2"/><circle cx="521.0" cy="157.2" r="1.2"/><circle cx="525.4" cy="164.8" r="1.2"/><circle cx="370.8" cy="167.8" r="1.2"/><circle cx="386.2" cy="169.8" r="1.2"/><circle cx="384.3" cy="174.1" r="1.2"/><circle cx="397.5" cy="167.8" r="1.2"/><circle cx="388.7" cy="176.1" r="1.2"/><circle cx="391.2" cy="176.1" r="1.2"/><circle cx="388.7" cy="180.2" r="1.2"/><circle cx="391.2" cy="180.2" r="1.2"/><circle cx="384.3" cy="183.0" r="1.2"/><circle cx="384.3" cy="186.7" r="1.2"/><circle cx="388.7" cy="186.7" r="1.2"/><circle cx="391.2" cy="186.7" r="1.2"/><circle cx="377.6" cy="189.3" r="1.2"/><circle cx="386.2" cy="191.5" r="1.2"/><circle cx="391.2" cy="194.0" r="1.2"/><circle cx="386.8" cy="200.1" r="1.2"/><circle cx="406.4" cy="201.6" r="1.2"/><circle cx="417.7" cy="201.6" r="1.2"/><circle cx="425.3" cy="204.1" r="1.2"/><circle cx="430.9" cy="199.1" r="1.2"/><circle cx="434.1" cy="206.4" r="1.2"/><circle cx="441.7" cy="207.9" r="1.2"/><circle cx="448.0" cy="200.4" r="1.2"/><circle cx="453.0" cy="196.6" r="1.2"/><circle cx="455.5" cy="204.1" r="1.2"/><circle cx="529.8" cy="176.4" r="1.2"/><circle cx="511.5" cy="183.0" r="1.2"/><circle cx="505.2" cy="185.0" r="1.2"/><circle cx="507.7" cy="185.0" r="1.2"/><circle cx="497.6" cy="185.2" r="1.2"/><circle cx="457.9" cy="191.5" r="1.2"/><circle cx="457.9" cy="194.0" r="1.2"/><circle cx="459.2" cy="195.9" r="1.2"/><circle cx="228.0" cy="381.5" r="1.2"/><circle cx="241.3" cy="392.1" r="1.2"/><circle cx="241.3" cy="411.5" r="1.2"/><circle cx="245.9" cy="411.5" r="1.2"/><circle cx="238.9" cy="422.1" r="1.2"/><circle cx="163.0" cy="428.5" r="1.2"/><circle cx="223.2" cy="426.4" r="1.2"/><circle cx="234.5" cy="428.5" r="1.2"/><circle cx="245.9" cy="428.5" r="1.2"/><circle cx="248.0" cy="430.5" r="1.2"/><circle cx="198.7" cy="432.7" r="1.2"/><circle cx="207.7" cy="432.7" r="1.2"/><circle cx="238.9" cy="436.9" r="1.2"/><circle cx="243.6" cy="436.9" r="1.2"/><circle cx="232.2" cy="441.1" r="1.2"/><circle cx="238.0" cy="442.5" r="1.2"/><circle cx="203.2" cy="443.2" r="1.2"/><circle cx="210.0" cy="443.2" r="1.2"/><circle cx="249.7" cy="443.2" r="1.2"/><circle cx="299.3" cy="381.5" r="1.2"/><circle cx="261.2" cy="407.1" r="1.2"/><circle cx="252.5" cy="417.9" r="1.2"/><circle cx="257.0" cy="419.7" r="1.2"/><circle cx="259.5" cy="419.7" r="1.2"/><circle cx="267.9" cy="415.7" r="1.2"/><circle cx="288.1" cy="415.7" r="1.2"/><circle cx="288.1" cy="422.1" r="1.2"/><circle cx="341.7" cy="420.0" r="1.2"/><circle cx="252.5" cy="426.4" r="1.2"/><circle cx="254.9" cy="430.6" r="1.2"/><circle cx="259.1" cy="428.5" r="1.2"/><circle cx="265.7" cy="426.4" r="1.2"/><circle cx="272.1" cy="426.4" r="1.2"/><circle cx="273.1" cy="428.5" r="1.2"/><circle cx="275.2" cy="430.6" r="1.2"/><circle cx="278.0" cy="430.6" r="1.2"/><circle cx="280.1" cy="430.6" r="1.2"/><circle cx="283.6" cy="430.6" r="1.2"/><circle cx="286.1" cy="428.5" r="1.2"/><circle cx="306.0" cy="434.8" r="1.2"/><circle cx="306.0" cy="439.0" r="1.2"/><circle cx="254.9" cy="437.2" r="1.2"/><circle cx="256.3" cy="439.3" r="1.2"/><circle cx="257.0" cy="441.4" r="1.2"/><circle cx="272.4" cy="439.0" r="1.2"/><circle cx="290.6" cy="437.2" r="1.2"/><circle cx="192.0" cy="447.7" r="1.2"/><circle cx="203.2" cy="447.7" r="1.2"/><circle cx="216.9" cy="449.8" r="1.2"/><circle cx="230.1" cy="447.7" r="1.2"/><circle cx="236.8" cy="447.7" r="1.2"/><circle cx="241.3" cy="447.7" r="1.2"/><circle cx="248.0" cy="449.8" r="1.2"/><circle cx="203.2" cy="456.5" r="1.2"/><circle cx="214.4" cy="458.2" r="1.2"/><circle cx="221.4" cy="456.1" r="1.2"/><circle cx="225.6" cy="458.9" r="1.2"/><circle cx="227.7" cy="460.7" r="1.2"/><circle cx="230.5" cy="462.4" r="1.2"/><circle cx="229.8" cy="464.5" r="1.2"/><circle cx="236.8" cy="455.4" r="1.2"/><circle cx="238.9" cy="454.0" r="1.2"/><circle cx="241.0" cy="456.1" r="1.2"/><circle cx="243.1" cy="451.2" r="1.2"/><circle cx="245.2" cy="453.3" r="1.2"/><circle cx="246.6" cy="455.4" r="1.2"/><circle cx="243.8" cy="462.4" r="1.2"/><circle cx="246.6" cy="461.0" r="1.2"/><circle cx="192.0" cy="462.4" r="1.2"/><circle cx="207.7" cy="462.4" r="1.2"/><circle cx="218.9" cy="464.9" r="1.2"/><circle cx="223.1" cy="466.9" r="1.2"/><circle cx="237.5" cy="465.9" r="1.2"/><circle cx="239.6" cy="464.5" r="1.2"/><circle cx="246.6" cy="468.0" r="1.2"/><circle cx="248.0" cy="470.1" r="1.2"/><circle cx="234.0" cy="472.9" r="1.2"/><circle cx="236.8" cy="474.3" r="1.2"/><circle cx="235.7" cy="470.8" r="1.2"/><circle cx="214.4" cy="477.5" r="1.2"/><circle cx="218.9" cy="477.5" r="1.2"/><circle cx="185.7" cy="479.9" r="1.2"/><circle cx="230.1" cy="481.7" r="1.2"/><circle cx="234.7" cy="482.0" r="1.2"/><circle cx="234.7" cy="484.1" r="1.2"/><circle cx="241.3" cy="479.9" r="1.2"/><circle cx="246.6" cy="482.0" r="1.2"/><circle cx="227.7" cy="485.9" r="1.2"/><circle cx="241.7" cy="486.2" r="1.2"/><circle cx="243.8" cy="488.3" r="1.2"/><circle cx="248.0" cy="488.3" r="1.2"/><circle cx="198.7" cy="488.3" r="1.2"/><circle cx="216.5" cy="490.1" r="1.2"/><circle cx="219.3" cy="490.1" r="1.2"/><circle cx="246.6" cy="492.5" r="1.2"/><circle cx="249.4" cy="492.5" r="1.2"/><circle cx="234.0" cy="494.6" r="1.2"/><circle cx="236.8" cy="496.7" r="1.2"/><circle cx="214.4" cy="498.5" r="1.2"/><circle cx="241.3" cy="498.5" r="1.2"/><circle cx="251.2" cy="451.9" r="1.2"/><circle cx="254.0" cy="451.9" r="1.2"/><circle cx="268.0" cy="447.7" r="1.2"/><circle cx="268.0" cy="450.1" r="1.2"/><circle cx="277.8" cy="446.3" r="1.2"/><circle cx="280.6" cy="445.6" r="1.2"/><circle cx="277.1" cy="449.1" r="1.2"/><circle cx="278.5" cy="451.2" r="1.2"/><circle cx="286.2" cy="443.1" r="1.2"/><circle cx="290.4" cy="445.6" r="1.2"/><circle cx="288.3" cy="449.8" r="1.2"/><circle cx="289.7" cy="451.9" r="1.2"/><circle cx="317.0" cy="449.8" r="1.2"/><circle cx="242.8" cy="454.0" r="1.2"/><circle cx="256.8" cy="456.1" r="1.2"/><circle cx="259.6" cy="458.2" r="1.2"/><circle cx="268.7" cy="456.8" r="1.2"/><circle cx="271.5" cy="458.2" r="1.2"/><circle cx="273.6" cy="460.3" r="1.2"/><circle cx="282.0" cy="455.4" r="1.2"/><circle cx="289.0" cy="456.8" r="1.2"/><circle cx="297.4" cy="456.1" r="1.2"/><circle cx="299.5" cy="454.0" r="1.2"/><circle cx="249.8" cy="459.6" r="1.2"/><circle cx="251.9" cy="461.0" r="1.2"/><circle cx="258.2" cy="461.0" r="1.2"/><circle cx="261.0" cy="462.4" r="1.2"/><circle cx="263.1" cy="461.0" r="1.2"/><circle cx="268.0" cy="462.4" r="1.2"/><circle cx="285.5" cy="462.4" r="1.2"/><circle cx="246.3" cy="465.9" r="1.2"/><circle cx="251.2" cy="466.6" r="1.2"/><circle cx="254.0" cy="465.2" r="1.2"/><circle cx="258.2" cy="464.5" r="1.2"/><circle cx="260.3" cy="465.9" r="1.2"/><circle cx="262.4" cy="468.0" r="1.2"/><circle cx="299.5" cy="466.6" r="1.2"/><circle cx="303.7" cy="466.6" r="1.2"/><circle cx="314.9" cy="464.9" r="1.2"/><circle cx="310.0" cy="469.4" r="1.2"/><circle cx="251.2" cy="470.8" r="1.2"/><circle cx="254.0" cy="471.5" r="1.2"/><circle cx="256.1" cy="470.1" r="1.2"/><circle cx="265.9" cy="470.8" r="1.2"/><circle cx="281.3" cy="470.8" r="1.2"/><circle cx="284.1" cy="472.2" r="1.2"/><circle cx="290.4" cy="470.8" r="1.2"/><circle cx="308.6" cy="474.3" r="1.2"/><circle cx="310.7" cy="472.9" r="1.2"/><circle cx="261.0" cy="475.7" r="1.2"/><circle cx="258.2" cy="477.1" r="1.2"/><circle cx="255.4" cy="477.8" r="1.2"/><circle cx="270.1" cy="475.7" r="1.2"/><circle cx="274.3" cy="475.7" r="1.2"/><circle cx="277.1" cy="475.7" r="1.2"/><circle cx="249.8" cy="477.8" r="1.2"/><circle cx="283.4" cy="477.8" r="1.2"/><circle cx="284.1" cy="481.3" r="1.2"/><circle cx="290.4" cy="479.2" r="1.2"/><circle cx="259.6" cy="479.2" r="1.2"/><circle cx="256.8" cy="480.6" r="1.2"/><circle cx="244.2" cy="483.4" r="1.2"/><circle cx="247.0" cy="484.1" r="1.2"/><circle cx="249.8" cy="483.4" r="1.2"/><circle cx="275.0" cy="482.0" r="1.2"/><circle cx="277.1" cy="482.0" r="1.2"/><circle cx="254.0" cy="484.8" r="1.2"/><circle cx="256.8" cy="486.2" r="1.2"/><circle cx="259.6" cy="487.6" r="1.2"/><circle cx="258.2" cy="489.7" r="1.2"/><circle cx="264.5" cy="487.6" r="1.2"/><circle cx="266.6" cy="485.5" r="1.2"/><circle cx="272.2" cy="485.5" r="1.2"/><circle cx="288.3" cy="486.2" r="1.2"/><circle cx="251.9" cy="489.0" r="1.2"/><circle cx="254.0" cy="489.7" r="1.2"/><circle cx="263.8" cy="489.7" r="1.2"/><circle cx="270.8" cy="489.7" r="1.2"/><circle cx="272.9" cy="490.4" r="1.2"/><circle cx="252.6" cy="491.8" r="1.2"/><circle cx="253.3" cy="493.9" r="1.2"/><circle cx="279.2" cy="492.5" r="1.2"/><circle cx="284.1" cy="493.2" r="1.2"/><circle cx="287.6" cy="492.5" r="1.2"/><circle cx="284.8" cy="496.0" r="1.2"/><circle cx="286.2" cy="498.1" r="1.2"/><circle cx="268.0" cy="496.7" r="1.2"/><circle cx="272.2" cy="496.7" r="1.2"/><circle cx="277.1" cy="496.7" r="1.2"/><circle cx="253.3" cy="496.7" r="1.2"/><circle cx="301.6" cy="498.1" r="1.2"/><circle cx="321.9" cy="492.5" r="1.2"/><circle cx="258.2" cy="498.1" r="1.2"/><circle cx="214.4" cy="507.6" r="1.2"/><circle cx="216.9" cy="505.5" r="1.2"/><circle cx="234.5" cy="505.5" r="1.2"/><circle cx="234.5" cy="509.7" r="1.2"/><circle cx="245.2" cy="503.7" r="1.2"/><circle cx="249.4" cy="506.9" r="1.2"/><circle cx="238.5" cy="524.7" r="1.2"/><circle cx="243.1" cy="524.7" r="1.2"/><circle cx="248.0" cy="522.7" r="1.2"/><circle cx="218.9" cy="533.1" r="1.2"/><circle cx="248.0" cy="541.5" r="1.2"/><circle cx="249.7" cy="537.0" r="1.2"/><circle cx="225.6" cy="547.9" r="1.2"/><circle cx="249.7" cy="547.9" r="1.2"/><circle cx="254.7" cy="498.9" r="1.2"/><circle cx="254.0" cy="503.4" r="1.2"/><circle cx="258.9" cy="503.7" r="1.2"/><circle cx="258.9" cy="506.2" r="1.2"/><circle cx="281.3" cy="503.4" r="1.2"/><circle cx="303.7" cy="505.5" r="1.2"/><circle cx="328.2" cy="503.4" r="1.2"/><circle cx="263.8" cy="509.7" r="1.2"/><circle cx="265.9" cy="511.8" r="1.2"/><circle cx="270.1" cy="509.7" r="1.2"/><circle cx="272.9" cy="509.7" r="1.2"/><circle cx="277.1" cy="509.7" r="1.2"/><circle cx="292.5" cy="509.7" r="1.2"/><circle cx="288.3" cy="513.9" r="1.2"/><circle cx="261.0" cy="516.0" r="1.2"/><circle cx="270.1" cy="516.0" r="1.2"/><circle cx="277.1" cy="516.0" r="1.2"/><circle cx="283.4" cy="516.0" r="1.2"/><circle cx="305.8" cy="516.0" r="1.2"/><circle cx="254.7" cy="526.5" r="1.2"/><circle cx="261.0" cy="528.6" r="1.2"/><circle cx="263.8" cy="526.5" r="1.2"/><circle cx="270.1" cy="524.4" r="1.2"/><circle cx="277.1" cy="528.6" r="1.2"/><circle cx="292.5" cy="531.1" r="1.2"/><circle cx="272.5" cy="537.0" r="1.2"/><circle cx="283.7" cy="541.2" r="1.2"/><circle cx="294.6" cy="543.7" r="1.2"/><circle cx="303.7" cy="539.5" r="1.2"/><circle cx="263.8" cy="543.7" r="1.2"/><circle cx="254.7" cy="550.0" r="1.2"/><circle cx="261.0" cy="547.9" r="1.2"/><circle cx="270.1" cy="546.1" r="1.2"/><circle cx="270.1" cy="548.2" r="1.2"/><circle cx="256.8" cy="556.3" r="1.2"/><circle cx="268.0" cy="554.5" r="1.2"/><circle cx="283.7" cy="558.4" r="1.2"/><circle cx="381.9" cy="402.7" r="1.2"/><circle cx="399.4" cy="390.1" r="1.2"/><circle cx="399.4" cy="417.7" r="1.2"/><circle cx="363.7" cy="443.1" r="1.2"/><circle cx="357.4" cy="449.8" r="1.2"/><circle cx="359.6" cy="462.4" r="1.2"/><circle cx="363.7" cy="481.7" r="1.2"/><circle cx="359.6" cy="490.4" r="1.2"/><circle cx="341.7" cy="496.7" r="1.2"/><circle cx="382.0" cy="449.8" r="1.2"/><circle cx="395.4" cy="449.8" r="1.2"/><circle cx="404.0" cy="441.4" r="1.2"/><circle cx="399.8" cy="462.4" r="1.2"/><circle cx="377.4" cy="485.9" r="1.2"/><circle cx="386.5" cy="485.9" r="1.2"/><circle cx="372.9" cy="494.6" r="1.2"/><circle cx="377.4" cy="498.5" r="1.2"/><circle cx="395.4" cy="494.6" r="1.2"/><circle cx="395.4" cy="499.5" r="1.2"/><circle cx="346.3" cy="550.3" r="1.2"/><circle cx="366.9" cy="526.5" r="1.2"/><circle cx="368.7" cy="537.3" r="1.2"/><circle cx="411.0" cy="503.4" r="1.2"/><circle cx="402.4" cy="511.8" r="1.2"/><circle cx="419.4" cy="524.7" r="1.2"/><circle cx="411.0" cy="528.9" r="1.2"/><circle cx="411.0" cy="537.3" r="1.2"/><circle cx="404.3" cy="539.5" r="1.2"/><circle cx="415.5" cy="547.9" r="1.2"/><circle cx="455.7" cy="364.5" r="1.2"/><circle cx="471.4" cy="364.5" r="1.2"/><circle cx="493.6" cy="366.3" r="1.2"/><circle cx="495.9" cy="364.2" r="1.2"/><circle cx="460.2" cy="383.5" r="1.2"/><circle cx="475.6" cy="383.5" r="1.2"/><circle cx="460.2" cy="392.2" r="1.2"/><circle cx="464.7" cy="390.1" r="1.2"/><circle cx="471.4" cy="394.3" r="1.2"/><circle cx="484.7" cy="392.2" r="1.2"/><circle cx="464.7" cy="402.7" r="1.2"/><circle cx="468.9" cy="400.6" r="1.2"/><circle cx="473.5" cy="398.5" r="1.2"/><circle cx="453.5" cy="404.8" r="1.2"/><circle cx="495.9" cy="404.8" r="1.2"/><circle cx="491.3" cy="406.9" r="1.2"/><circle cx="486.8" cy="409.0" r="1.2"/><circle cx="466.9" cy="409.0" r="1.2"/><circle cx="415.4" cy="411.1" r="1.2"/><circle cx="417.5" cy="409.3" r="1.2"/><circle cx="402.1" cy="419.5" r="1.2"/><circle cx="404.2" cy="417.4" r="1.2"/><circle cx="420.3" cy="417.7" r="1.2"/><circle cx="460.2" cy="415.7" r="1.2"/><circle cx="466.9" cy="415.7" r="1.2"/><circle cx="480.1" cy="413.5" r="1.2"/><circle cx="484.7" cy="415.7" r="1.2"/><circle cx="488.9" cy="413.5" r="1.2"/><circle cx="408.7" cy="424.1" r="1.2"/><circle cx="415.4" cy="424.1" r="1.2"/><circle cx="420.3" cy="424.1" r="1.2"/><circle cx="437.8" cy="424.1" r="1.2"/><circle cx="464.7" cy="426.1" r="1.2"/><circle cx="480.1" cy="428.3" r="1.2"/><circle cx="493.6" cy="424.1" r="1.2"/><circle cx="464.7" cy="432.7" r="1.2"/><circle cx="482.6" cy="432.7" r="1.2"/><circle cx="486.8" cy="432.7" r="1.2"/><circle cx="410.9" cy="436.9" r="1.2"/><circle cx="413.3" cy="434.8" r="1.2"/><circle cx="437.8" cy="441.1" r="1.2"/><circle cx="439.9" cy="447.4" r="1.2"/><circle cx="468.9" cy="439.0" r="1.2"/><circle cx="473.1" cy="437.6" r="1.2"/><circle cx="478.2" cy="441.1" r="1.2"/><circle cx="489.4" cy="441.1" r="1.2"/><circle cx="493.6" cy="445.3" r="1.2"/><circle cx="460.2" cy="447.4" r="1.2"/><circle cx="464.7" cy="447.4" r="1.2"/><circle cx="462.3" cy="451.9" r="1.2"/><circle cx="451.1" cy="456.1" r="1.2"/><circle cx="457.7" cy="454.1" r="1.2"/><circle cx="457.7" cy="458.3" r="1.2"/><circle cx="464.7" cy="458.3" r="1.2"/><circle cx="475.6" cy="454.1" r="1.2"/><circle cx="480.1" cy="454.1" r="1.2"/><circle cx="473.5" cy="458.3" r="1.2"/><circle cx="476.3" cy="458.3" r="1.2"/><circle cx="489.4" cy="454.1" r="1.2"/><circle cx="493.6" cy="454.1" r="1.2"/><circle cx="455.7" cy="462.5" r="1.2"/><circle cx="460.2" cy="466.7" r="1.2"/><circle cx="462.3" cy="464.6" r="1.2"/><circle cx="466.9" cy="464.6" r="1.2"/><circle cx="475.6" cy="464.6" r="1.2"/><circle cx="499.4" cy="466.7" r="1.2"/><circle cx="466.9" cy="469.1" r="1.2"/><circle cx="469.3" cy="469.1" r="1.2"/><circle cx="480.1" cy="469.1" r="1.2"/><circle cx="473.5" cy="473.3" r="1.2"/><circle cx="466.9" cy="475.4" r="1.2"/><circle cx="453.5" cy="477.5" r="1.2"/><circle cx="478.2" cy="477.5" r="1.2"/><circle cx="484.7" cy="479.6" r="1.2"/><circle cx="495.9" cy="477.5" r="1.2"/><circle cx="426.6" cy="481.7" r="1.2"/><circle cx="449.0" cy="481.7" r="1.2"/><circle cx="449.0" cy="485.9" r="1.2"/><circle cx="457.7" cy="488.3" r="1.2"/><circle cx="480.1" cy="488.3" r="1.2"/><circle cx="424.5" cy="492.5" r="1.2"/><circle cx="449.0" cy="492.5" r="1.2"/><circle cx="453.2" cy="493.9" r="1.2"/><circle cx="440.1" cy="507.5" r="1.2"/><circle cx="448.9" cy="501.2" r="1.2"/><circle cx="448.9" cy="503.3" r="1.2"/><circle cx="455.5" cy="505.4" r="1.2"/><circle cx="460.1" cy="509.6" r="1.2"/><circle cx="466.7" cy="507.5" r="1.2"/><circle cx="466.7" cy="511.7" r="1.2"/><circle cx="487.0" cy="499.1" r="1.2"/><circle cx="482.5" cy="505.4" r="1.2"/><circle cx="460.1" cy="520.1" r="1.2"/><circle cx="489.1" cy="522.5" r="1.2"/><circle cx="455.5" cy="526.7" r="1.2"/><circle cx="482.5" cy="530.9" r="1.2"/><circle cx="493.8" cy="533.1" r="1.2"/><circle cx="462.1" cy="537.3" r="1.2"/><circle cx="466.7" cy="535.1" r="1.2"/><circle cx="448.9" cy="541.5" r="1.2"/><circle cx="482.5" cy="541.5" r="1.2"/><circle cx="491.5" cy="541.5" r="1.2"/><circle cx="475.8" cy="552.3" r="1.2"/><circle cx="511.6" cy="377.2" r="1.2"/><circle cx="520.5" cy="373.0" r="1.2"/><circle cx="509.3" cy="402.7" r="1.2"/><circle cx="511.6" cy="407.1" r="1.2"/><circle cx="505.1" cy="413.5" r="1.2"/><circle cx="507.0" cy="426.4" r="1.2"/><circle cx="507.0" cy="428.4" r="1.2"/><circle cx="529.6" cy="422.0" r="1.2"/><circle cx="502.5" cy="451.5" r="1.2"/><circle cx="505.1" cy="449.6" r="1.2"/><circle cx="509.3" cy="449.6" r="1.2"/><circle cx="505.1" cy="456.3" r="1.2"/><circle cx="509.3" cy="468.9" r="1.2"/><circle cx="357.5" cy="191.5" r="1.2"/><circle cx="361.7" cy="204.4" r="1.2"/><circle cx="363.8" cy="223.4" r="1.2"/><circle cx="292.6" cy="242.7" r="1.2"/><circle cx="326.1" cy="251.3" r="1.2"/><circle cx="382.1" cy="204.2" r="1.2"/><circle cx="390.9" cy="206.3" r="1.2"/><circle cx="395.4" cy="201.4" r="1.2"/><circle cx="397.5" cy="200.7" r="1.2"/><circle cx="397.5" cy="206.3" r="1.2"/><circle cx="400.3" cy="206.3" r="1.2"/><circle cx="397.9" cy="210.5" r="1.2"/><circle cx="410.8" cy="202.1" r="1.2"/><circle cx="410.8" cy="204.2" r="1.2"/><circle cx="404.5" cy="214.7" r="1.2"/><circle cx="404.5" cy="223.5" r="1.2"/><circle cx="370.9" cy="212.6" r="1.2"/><circle cx="370.9" cy="218.9" r="1.2"/><circle cx="373.3" cy="221.0" r="1.2"/><circle cx="377.9" cy="218.9" r="1.2"/><circle cx="417.8" cy="210.5" r="1.2"/><circle cx="419.9" cy="218.9" r="1.2"/><circle cx="424.5" cy="206.3" r="1.2"/><circle cx="429.0" cy="210.5" r="1.2"/><circle cx="429.0" cy="212.6" r="1.2"/><circle cx="434.6" cy="202.1" r="1.2"/><circle cx="438.8" cy="202.1" r="1.2"/><circle cx="441.6" cy="201.4" r="1.2"/><circle cx="444.4" cy="210.5" r="1.2"/><circle cx="426.5" cy="216.8" r="1.2"/><circle cx="429.0" cy="218.9" r="1.2"/><circle cx="431.1" cy="218.9" r="1.2"/><circle cx="437.7" cy="216.8" r="1.2"/><circle cx="446.5" cy="216.8" r="1.2"/><circle cx="450.0" cy="201.4" r="1.2"/><circle cx="462.4" cy="218.9" r="1.2"/><circle cx="410.8" cy="244.8" r="1.2"/><circle cx="431.1" cy="244.8" r="1.2"/><circle cx="431.1" cy="249.0" r="1.2"/><circle cx="464.7" cy="240.6" r="1.2"/><circle cx="464.7" cy="259.9" r="1.2"/><circle cx="469.1" cy="195.6" r="1.2"/><circle cx="475.7" cy="197.7" r="1.2"/><circle cx="486.9" cy="206.4" r="1.2"/><circle cx="469.1" cy="212.7" r="1.2"/><circle cx="477.9" cy="264.0" r="1.2"/><circle cx="509.4" cy="272.6" r="1.2"/><circle cx="495.7" cy="279.0" r="1.2"/><circle cx="426.8" cy="285.2" r="1.2"/><circle cx="460.1" cy="283.2" r="1.2"/><circle cx="482.5" cy="298.1" r="1.2"/><circle cx="475.8" cy="304.5" r="1.2"/><circle cx="455.6" cy="308.7" r="1.2"/><circle cx="493.7" cy="306.5" r="1.2"/><circle cx="504.7" cy="308.7" r="1.2"/><circle cx="401.9" cy="315.4" r="1.2"/><circle cx="504.7" cy="319.6" r="1.2"/><circle cx="531.8" cy="319.6" r="1.2"/><circle cx="424.3" cy="328.0" r="1.2"/><circle cx="487.0" cy="325.8" r="1.2"/><circle cx="504.7" cy="330.3" r="1.2"/><circle cx="509.4" cy="330.3" r="1.2"/><circle cx="466.8" cy="347.4" r="1.2"/><circle cx="480.3" cy="349.0" r="1.2"/><circle cx="500.5" cy="351.3" r="1.2"/><circle cx="429.0" cy="54.7" r="1.2"/><circle cx="444.4" cy="78.3" r="1.2"/><circle cx="462.6" cy="78.3" r="1.2"/><circle cx="507.2" cy="76.0" r="1.2"/><circle cx="451.2" cy="93.4" r="1.2"/><circle cx="475.8" cy="93.4" r="1.2"/><circle cx="466.8" cy="106.0" r="1.2"/><circle cx="429.0" cy="110.2" r="1.2"/><circle cx="442.2" cy="118.6" r="1.2"/></g>
<rect x="102" y="18" width="587" height="3" fill="#000"/><rect x="118" y="18" width="3" height="545" fill="#000"/><rect x="686" y="18" width="3" height="562" fill="#000"/><rect x="118" y="561" width="571" height="3" fill="#000"/><rect x="364" y="19" width="3" height="543" fill="#000"/><rect x="119" y="355" width="568" height="3" fill="#000"/><rect x="472.2" y="17" width="2.4" height="2" fill="#000"/><rect x="494.7" y="17" width="2.4" height="2" fill="#000"/><rect x="526.0" y="17" width="2.4" height="2" fill="#000"/><rect x="102" y="155" width="17" height="3" fill="#000"/><rect x="102" y="289" width="17" height="3" fill="#000"/><rect x="102" y="427" width="17" height="3" fill="#000"/><rect x="111" y="24" width="8" height="3" fill="#000"/><rect x="111" y="33" width="8" height="3" fill="#000"/><rect x="111" y="39" width="8" height="3" fill="#000"/><rect x="111" y="49" width="8" height="3" fill="#000"/><rect x="111" y="61" width="8" height="3" fill="#000"/><rect x="111" y="74" width="8" height="3" fill="#000"/><rect x="111" y="89" width="8" height="3" fill="#000"/><rect x="111" y="114" width="8" height="3" fill="#000"/><rect x="111" y="161" width="8" height="3" fill="#000"/><rect x="111" y="168" width="8" height="3" fill="#000"/><rect x="111" y="176" width="8" height="3" fill="#000"/><rect x="111" y="186" width="8" height="3" fill="#000"/><rect x="111" y="196" width="8" height="3" fill="#000"/><rect x="111" y="208" width="8" height="3" fill="#000"/><rect x="111" y="226" width="8" height="3" fill="#000"/><rect x="111" y="248" width="8" height="3" fill="#000"/><rect x="111" y="296" width="8" height="3" fill="#000"/><rect x="111" y="305" width="8" height="3" fill="#000"/><rect x="111" y="311" width="8" height="3" fill="#000"/><rect x="111" y="321" width="8" height="3" fill="#000"/><rect x="111" y="333" width="8" height="3" fill="#000"/><rect x="111" y="346" width="8" height="3" fill="#000"/><rect x="111" y="361" width="8" height="3" fill="#000"/><rect x="111" y="386" width="8" height="3" fill="#000"/><rect x="111" y="433" width="8" height="3" fill="#000"/><rect x="111" y="439" width="8" height="3" fill="#000"/><rect x="111" y="448" width="8" height="3" fill="#000"/><rect x="111" y="458" width="8" height="3" fill="#000"/><rect x="111" y="467" width="8" height="3" fill="#000"/><rect x="111" y="480" width="8" height="3" fill="#000"/><rect x="111" y="499" width="8" height="3" fill="#000"/><rect x="111" y="521" width="8" height="3" fill="#000"/><rect x="258" y="562" width="3" height="18" fill="#000"/><rect x="402" y="562" width="3" height="18" fill="#000"/><rect x="543" y="562" width="3" height="18" fill="#000"/><rect x="158" y="562" width="3" height="9" fill="#000"/><rect x="183" y="562" width="3" height="9" fill="#000"/><rect x="202" y="562" width="3" height="9" fill="#000"/><rect x="215" y="562" width="3" height="9" fill="#000"/><rect x="227" y="562" width="3" height="9" fill="#000"/><rect x="236" y="562" width="3" height="9" fill="#000"/><rect x="246" y="562" width="3" height="9" fill="#000"/><rect x="252" y="562" width="3" height="9" fill="#000"/><rect x="302" y="562" width="3" height="9" fill="#000"/><rect x="327" y="562" width="3" height="9" fill="#000"/><rect x="343" y="562" width="3" height="9" fill="#000"/><rect x="358" y="562" width="3" height="9" fill="#000"/><rect x="368" y="562" width="3" height="9" fill="#000"/><rect x="377" y="562" width="3" height="9" fill="#000"/><rect x="386" y="562" width="3" height="9" fill="#000"/><rect x="393" y="562" width="3" height="9" fill="#000"/><rect x="442" y="562" width="3" height="9" fill="#000"/><rect x="467" y="562" width="3" height="9" fill="#000"/><rect x="486" y="562" width="3" height="9" fill="#000"/><rect x="499" y="562" width="3" height="9" fill="#000"/><rect x="511" y="562" width="3" height="9" fill="#000"/><rect x="521" y="562" width="3" height="9" fill="#000"/><rect x="530" y="562" width="3" height="9" fill="#000"/><rect x="536" y="562" width="3" height="9" fill="#000"/><rect x="586" y="562" width="3" height="9" fill="#000"/><rect x="611" y="562" width="3" height="9" fill="#000"/><rect x="627" y="562" width="3" height="9" fill="#000"/><rect x="642" y="562" width="3" height="9" fill="#000"/><rect x="652" y="562" width="3" height="9" fill="#000"/><rect x="664" y="562" width="3" height="9" fill="#000"/><rect x="671" y="562" width="3" height="9" fill="#000"/><rect x="677" y="562" width="3" height="9" fill="#000"/>
<g fill="#000"><polygon points="67.30,10.00 67.30,28.00 64.80,28.00 64.80,13.00 61.10,16.20 60.40,14.60 64.50,10.00"/><text transform="translate(73.10,28.30) scale(0.904,1)" x="-1.09" y="0" font-size="28">0</text><text transform="translate(87.50,18.00) scale(0.880,1)" x="-0.67" y="0" font-size="17.5">3</text><polygon points="67.30,148.00 67.30,166.00 64.80,166.00 64.80,151.00 61.10,154.20 60.40,152.60 64.50,148.00"/><text transform="translate(73.10,166.30) scale(0.904,1)" x="-1.09" y="0" font-size="28">0</text><text transform="translate(87.00,154.00) scale(0.991,1)" x="-0.88" y="0" font-size="17.5">2</text><polygon points="67.30,282.20 67.30,300.20 64.80,300.20 64.80,285.20 61.10,288.40 60.40,286.80 64.50,282.20"/><text transform="translate(73.10,300.50) scale(0.904,1)" x="-1.09" y="0" font-size="28">0</text><polygon points="92.70,277.88 92.70,290.00 91.02,290.00 91.02,279.90 88.53,282.06 88.06,280.98 90.82,277.88"/><polygon points="67.30,420.00 67.30,438.00 64.80,438.00 64.80,423.00 61.10,426.20 60.40,424.60 64.50,420.00"/><text transform="translate(73.10,438.30) scale(0.904,1)" x="-1.09" y="0" font-size="28">0</text><text transform="translate(87.10,427.00) scale(0.920,1)" x="-0.68" y="0" font-size="17.5">0</text><polygon points="249.90,592.00 249.90,610.00 247.40,610.00 247.40,595.00 243.70,598.20 243.00,596.60 247.10,592.00"/><text transform="translate(255.70,610.30) scale(0.904,1)" x="-1.09" y="0" font-size="28">0</text><text transform="translate(269.20,600.00) scale(0.920,1)" x="-0.68" y="0" font-size="17.5">0</text><polygon points="393.10,592.00 393.10,610.00 390.60,610.00 390.60,595.00 386.90,598.20 386.20,596.60 390.30,592.00"/><text transform="translate(398.90,610.30) scale(0.904,1)" x="-1.09" y="0" font-size="28">0</text><polygon points="419.00,587.88 419.00,600.00 417.32,600.00 417.32,589.90 414.83,592.06 414.36,590.98 417.12,587.88"/><polygon points="534.20,592.00 534.20,610.00 531.70,610.00 531.70,595.00 528.00,598.20 527.30,596.60 531.40,592.00"/><text transform="translate(540.00,610.30) scale(0.904,1)" x="-1.09" y="0" font-size="28">0</text><text transform="translate(554.20,600.00) scale(0.991,1)" x="-0.88" y="0" font-size="17.5">2</text><polygon points="677.30,592.00 677.30,610.00 674.80,610.00 674.80,595.00 671.10,598.20 670.40,596.60 674.50,592.00"/><text transform="translate(683.10,610.30) scale(0.904,1)" x="-1.09" y="0" font-size="28">0</text><text transform="translate(698.00,600.00) scale(0.880,1)" x="-0.67" y="0" font-size="17.5">3</text></g>
<text transform="translate(339.90,651.00) scale(0.855,1)" x="-1.65" y="0" font-size="32.5">C</text><text transform="translate(359.70,651.00) scale(0.987,1)" x="-2.67" y="0" font-size="32.5">D</text><text transform="translate(381.00,651.00) scale(0.909,1)" x="-1.24" y="0" font-size="32.5">3</text><text transform="translate(397.80,651.00) scale(1.059,1)" x="-1.44" y="0" font-size="32.5">-</text><text transform="translate(409.50,651.00) scale(0.743,1)" x="-2.67" y="0" font-size="32.5">F</text><text transform="translate(425.80,651.00) scale(1.000,1)" x="-3.00" y="0" font-size="32.5">I</text><text transform="translate(430.80,651.00) scale(0.882,1)" x="-0.73" y="0" font-size="32.5">T</text><text transform="translate(448.70,651.00) scale(0.845,1)" x="-1.65" y="0" font-size="32.5">C</text>
<g transform="translate(43,360) rotate(-90)"><text transform="translate(5.40,0.00) scale(0.811,1)" x="-1.65" y="0" font-size="32.5">C</text><text transform="translate(25.50,0.00) scale(0.951,1)" x="-2.67" y="0" font-size="32.5">D</text><text transform="translate(47.20,0.00) scale(0.944,1)" x="-1.41" y="0" font-size="32.5">8</text><text transform="translate(85.40,0.00) scale(0.983,1)" x="-1.44" y="0" font-size="32.5">-</text><text transform="translate(96.00,0.00) scale(0.809,1)" x="-2.67" y="0" font-size="32.5">P</text><text transform="translate(114.40,0.00) scale(0.693,1)" x="-2.67" y="0" font-size="32.5">E</text></g>
<g fill="none" stroke="#000" stroke-linecap="butt"><ellipse cx="35.4" cy="289.2" rx="7.3" ry="5.0" stroke-width="1.7"/><path d="M35.6 294.3 C39 294.3 41.6 293.2 42.4 291" stroke-width="1.2"/><path d="M37 284.4 L28.2 280.2" stroke-width="2.5"/><path d="M36.5 284.2 C40 283 43 281.5 42.6 279 C42.2 277.3 40.6 276.9 39.4 277.2" stroke-width="1.5"/></g>
</svg>
</body></html>
